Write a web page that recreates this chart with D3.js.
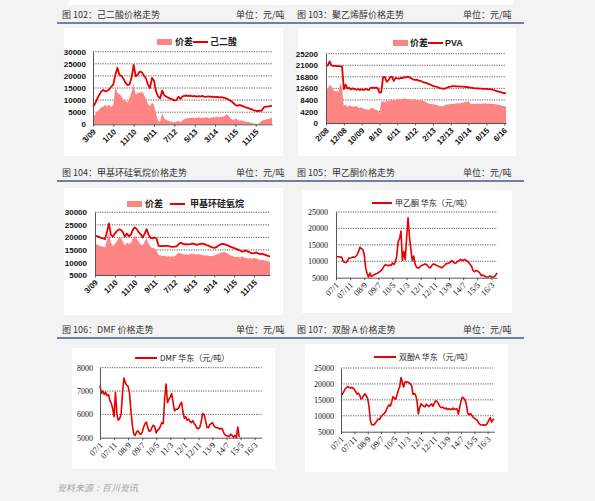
<!DOCTYPE html>
<html>
<head>
<meta charset="utf-8">
<script src="https://cdn.jsdelivr.net/npm/d3@7"></script>
<style>
  body { margin: 0; background: #f3f3f3; }
  svg { display: block; }
</style>
</head>
<body>
<svg id="page"></svg>
<script>
// monthly values, index 0 = first tick month of each panel
const adipicPrice = [7300,8500,10500,12000,13500,14200,13600,13800,14500,15500,16500,20500,23400,20400,20000,18800,17200,16200,16500,19500,
  24500,19800,20500,21800,21500,20200,19000,16500,15000,19200,18000,13500,11500,10700,14000,12000,11500,11000,10600,10300,
  9900,10000,11400,10500,11500,11800,11900,11700,11800,11500,11700,11400,11600,11500,11700,11300,11400,11500,11300,11400,
  11200,11300,11100,11200,11000,10800,10500,10000,9600,8800,8000,7600,8000,7700,7400,7000,6800,6500,6200,5800,
  5600,5500,5600,5700,7000,7300,7300,7500,7600];
const adipicSpread = [2500,4000,5200,6000,7000,7300,8000,7500,8200,7000,8000,15500,13000,12500,11500,10000,9800,9000,11000,13500,
  16500,12000,13000,13000,13500,12500,10500,8500,7500,9000,8000,4500,1500,1000,4800,2500,1800,1500,1300,1000,
  800,1200,1500,800,1600,2200,2400,2700,2600,2800,2500,2700,2900,2600,2800,2700,3000,2500,2700,3000,
  2800,3200,2900,3100,3200,3500,4200,3000,2200,1800,2400,2000,1500,1700,1400,1200,1000,800,500,300,
  200,100,600,1500,1800,2000,2200,2500,2600];

const pvaPrice = [20600,21000,22400,21000,20800,20800,20700,20700,20600,20600,12300,14000,12500,12800,12200,12600,12300,12100,12300,12000,
  12200,12000,12300,12200,12000,12800,12900,12800,12900,12700,11000,11200,16600,16800,15000,15500,16700,16900,15300,16400,
  16200,16100,16400,16300,16700,16600,16900,16500,16200,15800,15700,15800,15400,15300,15000,14800,14600,14300,14100,13800,
  13500,13300,13200,12900,12700,12600,12400,12600,12900,13100,13200,13400,13400,13300,13300,13200,13200,13200,13100,13100,
  13000,12900,12800,12700,12600,12600,12500,12500,12400,12400,12400,12300,12300,12200,12000,11800,11600,11400,11200,11000,
  10900,10800];
const pvaSpread = [12900,12500,13800,13500,12200,11500,11800,11200,14500,13000,6200,6800,5800,6500,6200,6000,5900,6300,5600,5500,
  5800,5200,5000,4900,4800,5300,5600,5100,4800,4600,3600,7600,8000,7500,8200,7800,8400,8200,8500,8300,
  8600,8800,8500,8700,9000,8800,8600,8700,8400,8500,8600,8400,8300,8500,8200,7900,7700,7300,7000,6900,
  6800,6700,6600,6400,6200,6000,6300,6600,6700,6800,6900,6900,7000,7100,7200,7200,7400,7500,7600,7700,
  7900,7000,6800,6900,7000,7100,7000,6900,7100,7200,7000,7100,7000,6900,7000,6800,6700,6600,6500,6300,
  6100,6000];

const d4Price = [20700,20500,20200,19800,19600,19300,22000,25600,21000,20300,21500,22500,23200,23000,22200,20300,21500,20500,21000,23000,
  24000,23300,22000,21200,20000,21500,23300,21000,19800,19600,20000,19400,16600,16500,16600,16500,16700,16500,16300,16200,
  16300,16400,17200,17900,17500,17200,17300,17200,17300,17500,17400,17000,17200,17400,17500,17300,16900,16700,16300,16000,
  15800,16100,16700,17200,17400,17300,17000,16700,16300,16000,15700,15400,15000,14800,14300,14500,14800,14300,14000,13600,
  13700,14000,13600,13300,13500,13200,12900,12600,12300];
const d4Spread = [17600,17200,16800,16500,16300,16000,19000,21600,18000,16500,17500,18500,20000,19800,18500,16800,18000,17500,17800,19500,
  20800,19500,18200,17200,16800,18500,19800,17500,16200,15800,15600,14800,13000,12800,12600,12700,12400,12500,12300,12500,
  12400,13200,14000,13600,13400,13200,13300,13100,13400,13500,13300,13200,13400,13100,13000,12800,12900,12700,12500,12600,
  12800,13200,13500,13800,14000,14300,13900,13400,12900,12600,12300,12100,12300,12000,12500,12000,11800,11500,11800,11500,
  11900,11700,11300,11000,11100,10900,10700,10500,10200];

const mekPrice = [11400,11400,11400,11300,11300,10000,9700,9600,10000,10900,11000,11100,11300,11200,11500,12000,13000,14300,13800,13600,
  12000,8000,6300,5200,6400,5300,5700,5900,6100,6300,6500,6900,7200,7700,8500,9000,8800,8600,8900,8700,
  9500,9000,9800,11500,16000,16800,19200,10300,13000,10500,17000,23200,17500,13800,10200,11600,9200,8200,7900,8100,
  8500,8800,8900,9200,9000,8600,8000,8100,8800,9200,9000,8800,8600,8400,8200,8000,8400,8800,9300,9300,
  9500,9700,10200,9800,9400,9500,9900,10200,10500,10400,10200,10600,10300,10000,9600,9000,8500,7200,6800,7200,
  7100,6800,6300,5600,5800,5500,5300,5200,5300,5500,5300,5200,5300,5700,6500];

const dmfPrice = [7250,6900,7000,6850,6950,6800,6850,6600,6480,6250,5900,6950,6000,5750,5820,6000,6900,7560,7350,7250,
  7200,6900,6150,5550,5150,5100,5240,5300,5180,5140,5240,5450,5600,5670,5420,5270,5300,5450,5530,5460,
  5200,5330,5370,5500,5650,5600,6700,7300,6500,6650,6750,6890,6500,6150,6230,6220,6280,6430,6520,6100,
  5830,5890,5750,5800,5700,5650,5730,5600,5530,5400,5390,5450,5700,6030,6000,5750,5450,5420,5550,5600,
  5650,5500,5450,5430,5420,5370,5400,5380,5200,5120,5080,5070,5050,5150,5100,5020,5100,5000,5460,5030];

const bpaPrice = [16400,16800,17500,18300,18800,19200,18900,18700,18900,18700,18300,17600,16800,17100,16500,15300,15500,16400,16900,16200,
  15500,13000,8600,7200,7100,7300,7800,8500,9000,8900,9700,10200,10500,11000,11800,12800,13400,13000,14400,16000,
  15500,15200,16500,18000,19000,22000,20500,19000,20600,20700,20500,20400,20000,19500,16700,17000,16500,14800,10600,12500,
  13800,13300,13000,12800,13600,13200,12900,13400,13700,13000,14000,14700,14500,13900,13000,12600,12700,12500,12200,12400,
  12000,12200,12000,12000,12400,12000,12100,12200,10500,12500,14600,15800,15600,15000,13700,10800,10300,10700,10200,9600,
  9300,8900,8700,7900,7400,7100,7100,7200,7000,7200,7800,8700,9400,8000,8800,8900];

const ticksA = ["3/09","1/10","11/10","9/11","7/12","5/13","3/14","1/15","11/15"];
const ticksB = ["2/08","12/08","10/09","8/10","6/11","4/12","2/13","12/13","10/14","8/15","6/16"];
const ticksC = ["07/1","07/11","08/9","09/7","10/5","11/3","12/1","12/11","13/9","14/7","15/5","16/3"];

const yTicks1 = [0,5000,10000,15000,20000,25000,30000];
const yTicks2 = [0,4200,8400,12600,16800,21000,25200];
const yTicks3 = [5000,10000,15000,20000,25000,30000];
const yTicks4 = [5000,10000,15000,20000,25000];
const yTicks5 = [5000,6000,7000,8000];

const titles = [
  "图 102：己二酸价格走势", "图 103：聚乙烯醇价格走势",
  "图 104：甲基环硅氧烷价格走势", "图 105：甲乙酮价格走势",
  "图 106：DMF 价格走势", "图 107：双酚 A 价格走势"
];
const unitLabel = "单位：元/吨";

const RED = "#e60000", PINK = "#ff8585";
const CJK = "'Noto Sans CJK SC', sans-serif";
const SANS = "'Liberation Sans', Arial, sans-serif";
const SERIF = "'Liberation Serif', 'Times New Roman', serif";

const svg = d3.select("#page").attr("width", 595).attr("height", 501);
svg.append("rect").attr("width", 595).attr("height", 501).attr("fill", "#f3f3f3");
svg.append("rect").attr("x", 69).attr("y", 0).attr("width", 444).attr("height", 5).attr("fill", "#fff");

// section headers
const headerRows = [23, 181, 338];
headerRows.forEach(function(ly, r) {
  svg.append("line").attr("x1", 57).attr("x2", 524).attr("y1", ly).attr("y2", ly)
    .attr("stroke", "#4a5a7c").attr("stroke-width", 1.5);
  [[62, 236], [297, 463]].forEach(function(pos, c) {
    svg.append("text").attr("x", pos[0]).attr("y", ly - 5)
      .style("font-family", CJK).style("font-size", "9px").attr("fill", "#333")
      .text(titles[r * 2 + c]);
    svg.append("text").attr("x", pos[1]).attr("y", ly - 5)
      .style("font-family", CJK).style("font-size", "9px").attr("fill", "#333")
      .text(unitLabel);
  });
});

svg.append("text").attr("x", 57).attr("y", 491)
  .style("font-family", SERIF).style("font-size", "9px").style("font-style", "italic")
  .attr("fill", "#a0a0a0").text("资料来源：百川资讯");

function drawPanel(p) {
  svg.append("rect").attr("x", p.box[0]).attr("y", p.box[1])
    .attr("width", p.box[2] - p.box[0]).attr("height", p.box[3] - p.box[1]).attr("fill", "#fff");

  const g = svg.append("g");
  const x = d3.scaleLinear().domain(p.xDomain).range([p.left, p.right]);
  const y = d3.scaleLinear().domain(p.yDomain).range([p.bottom, p.top]);

  g.selectAll(".grid").data(p.yTicks.filter(d => d > p.yDomain[0])).join("line")
    .attr("x1", p.left).attr("x2", p.right)
    .attr("y1", d => y(d)).attr("y2", d => y(d))
    .attr("stroke", "#333").attr("stroke-width", 0.8).attr("stroke-dasharray", "1.2,1.2");

  if (p.spread) {
    const area = d3.area().x((d, i) => x(i)).y0(y(p.yDomain[0])).y1(d => y(d));
    g.append("path").datum(p.spread).attr("d", area).attr("fill", PINK);
  }
  const line = d3.line().x((d, i) => x(i)).y(d => y(Math.max(d, p.yDomain[0])));
  g.append("path").datum(p.price).attr("d", line)
    .attr("fill", "none").attr("stroke", RED).attr("stroke-width", p.lw).attr("stroke-linejoin", "round");

  const ya = g.append("g").attr("transform", "translate(" + p.left + ",0)")
    .call(d3.axisLeft(y).tickValues(p.yTicks).tickSize(0).tickPadding(p.yPad).tickFormat(d3.format("d")));
  ya.select(".domain").attr("stroke", "#555");
  ya.selectAll("text").style("font-family", p.font).style("font-size", "8px")
    .style("font-weight", p.bold ? "bold" : "normal").attr("fill", "#111");

  const xa = g.append("g").attr("transform", "translate(0," + p.bottom + ")")
    .call(d3.axisBottom(x).tickValues(p.xTicks.map((d, i) => i * p.step))
      .tickFormat((d, i) => p.xTicks[i]).tickSize(2.5).tickSizeOuter(0));
  xa.select(".domain").attr("stroke", "#555");
  xa.selectAll(".tick line").attr("stroke", "#555");
  xa.selectAll("text").attr("x", 0).attr("y", 0).attr("dy", "0.35em")
    .attr("transform", "translate(1,6) rotate(-45)")
    .style("text-anchor", "end")
    .style("font-family", p.font).style("font-size", p.bold ? "8px" : "8.5px")
    .style("font-weight", p.bold ? "bold" : "normal").attr("fill", "#111");

  // legend
  p.legend.forEach(function(it) {
    if (it.kind === "area") {
      g.append("rect").attr("x", it.x).attr("y", p.legendY - 3).attr("width", 15).attr("height", 6).attr("fill", PINK);
    } else {
      g.append("line").attr("x1", it.x).attr("x2", it.x + it.w).attr("y1", p.legendY).attr("y2", p.legendY)
        .attr("stroke", RED).attr("stroke-width", 2);
    }
    g.append("text").attr("x", it.tx).attr("y", p.legendY).attr("dy", "0.35em")
      .style("font-family", it.font || CJK).style("font-size", p.legendSize)
      .style("font-weight", p.bold ? "bold" : "normal").attr("fill", "#222")
      .text(it.label);
  });
}

drawPanel({
  box: [64, 28, 283, 156], left: 93, right: 272, top: 51.7, bottom: 124.3,
  xDomain: [0, 88], yDomain: [0, 30000], yTicks: yTicks1, xTicks: ticksA, step: 10,
  price: adipicPrice, spread: adipicSpread, font: SANS, bold: true, yPad: 7, lw: 1.8,
  legendY: 42, legendSize: "9px",
  legend: [{kind: "area", x: 157, tx: 175, label: "价差"}, {kind: "line", x: 193, w: 15, tx: 210, label: "己二酸"}]
});
drawPanel({
  box: [298, 28, 516, 156], left: 326, right: 506, top: 53.7, bottom: 123,
  xDomain: [0, 101], yDomain: [0, 25200], yTicks: yTicks2, xTicks: ticksB, step: 10,
  price: pvaPrice, spread: pvaSpread, font: SANS, bold: true, yPad: 8, lw: 1.8,
  legendY: 43, legendSize: "9px",
  legend: [{kind: "area", x: 393, tx: 410, label: "价差"}, {kind: "line", x: 428, w: 15, tx: 445, label: "PVA", font: SANS}]
});
drawPanel({
  box: [64, 188, 283, 315], left: 95, right: 270, top: 212.3, bottom: 275,
  xDomain: [0, 88], yDomain: [5000, 30000], yTicks: yTicks3, xTicks: ticksA, step: 10,
  price: d4Price, spread: d4Spread, font: SANS, bold: true, yPad: 8, lw: 1.8,
  legendY: 204, legendSize: "9px",
  legend: [{kind: "area", x: 127, tx: 145, label: "价差"}, {kind: "line", x: 170, w: 15, tx: 190, label: "甲基环硅氧烷"}]
});
drawPanel({
  box: [302, 190, 512, 313], left: 336, right: 497, top: 212, bottom: 277.7,
  xDomain: [0, 114], yDomain: [5000, 25000], yTicks: yTicks4, xTicks: ticksC, step: 10,
  price: mekPrice, spread: null, font: SERIF, bold: false, yPad: 8, lw: 1.6,
  legendY: 203, legendSize: "8px",
  legend: [{kind: "line", x: 372, w: 20, tx: 395, label: "甲乙酮 华东（元/吨）"}]
});
drawPanel({
  box: [72, 348, 275, 469], left: 100, right: 261.7, top: 367.7, bottom: 437.7,
  xDomain: [0, 115], yDomain: [5000, 8000], yTicks: yTicks5, xTicks: ticksC, step: 10,
  price: dmfPrice, spread: null, font: SERIF, bold: false, yPad: 7, lw: 1.6,
  legendY: 358, legendSize: "8px",
  legend: [{kind: "line", x: 135, w: 22, tx: 160, label: "DMF 华东（元/吨）"}]
});
drawPanel({
  box: [305, 344, 508, 472], left: 341, right: 494.3, top: 368, bottom: 431.7,
  xDomain: [0, 115], yDomain: [5000, 25000], yTicks: yTicks4, xTicks: ticksC, step: 10,
  price: bpaPrice, spread: null, font: SERIF, bold: false, yPad: 7, lw: 1.6,
  legendY: 357, legendSize: "8px",
  legend: [{kind: "line", x: 374, w: 22, tx: 399, label: "双酚A 华东（元/吨）"}]
});
</script>
</body>
</html>
